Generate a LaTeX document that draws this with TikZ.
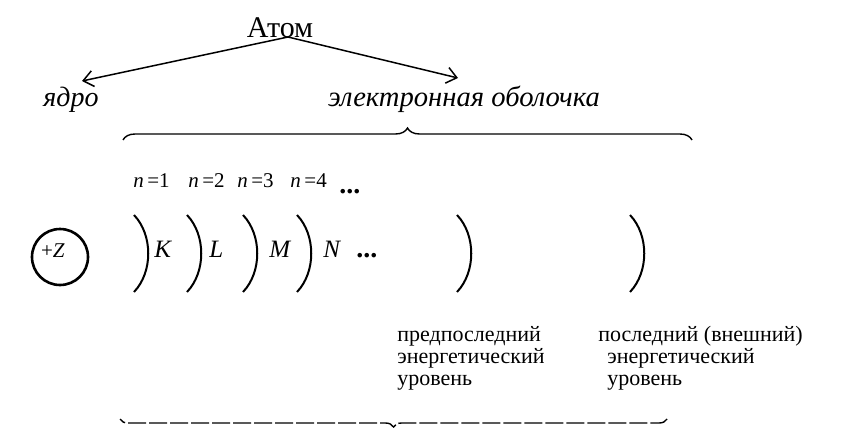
\documentclass[tikz,border=0pt]{standalone}
\usepackage{fontspec}
\setmainfont{Liberation Serif}
\usetikzlibrary{arrows.meta,decorations.pathreplacing}

\begin{document}
\begin{tikzpicture}[x=0.5pt, y=-0.5pt,
    lbl/.style={inner sep=0pt, anchor=base},
    shell/.style={line width=1pt},
    >={Straight Barb[length=5pt,width=8pt]}]
    \useasboundingbox (0,0) rectangle (865,433);
    % atom and its two parts
    \node[lbl, font=\fontsize{15}{15}\selectfont] (atom) at (280,38) {Атом};
    \node[lbl, font=\fontsize{14}{14}\selectfont\itshape] (yadro) at (71,106) {ядро};
    \node[lbl, font=\fontsize{14.3}{14}\selectfont\itshape] (obolochka) at (464,106) {электронная оболочка};
    \coordinate (fork) at (288,37);
    \coordinate (yadrotip) at (82,81);
    \coordinate (obolochkatip) at (458,78);
    \draw[line width=0.75pt, ->] (fork) -- (yadrotip);
    \draw[line width=0.75pt, ->] (fork) -- (obolochkatip);
    \draw[line width=0.7pt, decorate, decoration={brace, amplitude=6pt}] (123,140) -- (692,140);
    % nucleus
    \node[circle, draw, line width=1.3pt, minimum size=28pt] (nucleus) at (60,257) {};
    \node[lbl, font=\fontsize{10.5}{10}\selectfont] (charge) at (53,257) {+\textit{Z}};
    % quantum numbers
    \node[lbl, anchor=base west, font=\fontsize{10.5}{10.5}\selectfont] (n1) at (133,187) {\textit{n}\,=1};
    \node[lbl, anchor=base west, font=\fontsize{10.5}{10.5}\selectfont] (n2) at (188,187) {\textit{n}\,=2};
    \node[lbl, anchor=base west, font=\fontsize{10.5}{10.5}\selectfont] (n3) at (237,187) {\textit{n}\,=3};
    \node[lbl, anchor=base west, font=\fontsize{10.5}{10.5}\selectfont] (n4) at (290,187) {\textit{n}\,=4};
    \node[lbl, anchor=base west, font=\fontsize{14}{14}\selectfont\bfseries] (ndots) at (339,193) {...};
    % shells
    \foreach \x in {134,187,243,297,457,630}
      \draw[shell] (\x,215) .. controls (\x+19,235) and (\x+19,272) .. (\x,292);
    \node[lbl, anchor=base west, font=\fontsize{12.5}{12}\selectfont\itshape] (K) at (154,257) {K};
    \node[lbl, anchor=base west, font=\fontsize{12.5}{12}\selectfont\itshape] (L) at (209,257) {L};
    \node[lbl, anchor=base west, font=\fontsize{12.5}{12}\selectfont\itshape] (M) at (269,257) {M};
    \node[lbl, anchor=base west, font=\fontsize{12.5}{12}\selectfont\itshape] (N) at (323,257) {N};
    \node[lbl, anchor=base west, font=\fontsize{14}{14}\selectfont\bfseries] (sdots) at (356,257) {...};
    % last levels
    \node[lbl, anchor=base west, align=left, font=\fontsize{11}{11}\selectfont] (prelast) at (397,385)
      {предпоследний\\энергетический\\уровень};
    \node[lbl, anchor=base west, align=left, font=\fontsize{11}{11}\selectfont] (last) at (607,385)
      {\hspace*{-4.5pt}последний (внешний)\\энергетический\\уровень};
    \draw[line width=0.7pt, dash pattern=on 9pt off 1.5pt, decorate, decoration={brace, amplitude=4pt}] (667,419) -- (120,419);
\end{tikzpicture}
\end{document}
